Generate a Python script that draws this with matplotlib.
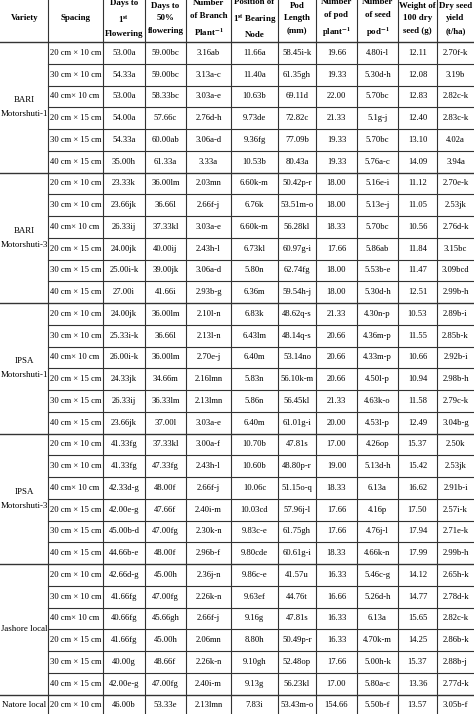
import matplotlib
matplotlib.use("Agg")
import matplotlib.pyplot as plt

plt.rcParams['font.family'] = ['Liberation Serif', 'DejaVu Serif']
plt.rcParams['mathtext.fontset'] = 'stix'

headers = ["Variety", "Spacing", "Days to\n1$^{\\mathbf{st}}$\nFlowering", "Days to\n50%\nflowering",
           "Number\nof Branch\nPlant$^{\\mathbf{-1}}$", "Position of\n1$^{\\mathbf{st}}$ Bearing\nNode",
           "Pod\nLength\n(mm)", "Number\nof pod\nplant$^{\\mathbf{-1}}$", "Number\nof seed\npod$^{\\mathbf{-1}}$",
           "Weight of\n100 dry\nseed (g)", "Dry seed\nyield\n(t/ha)"]

varieties = ["BARI\nMotorshuti-1", "BARI\nMotorshuti-3", "IPSA\nMotorshuti-1", "IPSA\nMotorshuti-3",
             "Jashore local", "Natore local"]
group_sizes = [6, 6, 6, 6, 6, 1]

six = ["20 cm × 10 cm", "30 cm × 10 cm", "40 cm× 10 cm", "20 cm × 15 cm", "30 cm × 15 cm", "40 cm × 15 cm"]
spacing = six * 5 + ["20 cm × 10 cm"]

days_first = ["53.00a", "54.33a", "53.00a", "54.00a", "54.33a", "35.00h",
              "23.33k", "23.66jk", "26.33ij", "24.00jk", "25.00i-k", "27.00i",
              "24.00jk", "25.33i-k", "26.00i-k", "24.33jk", "26.33ij", "23.66jk",
              "41.33fg", "41.33fg", "42.33d-g", "42.00e-g", "45.00b-d", "44.66b-e",
              "42.66d-g", "41.66fg", "40.66fg", "41.66fg", "40.00g", "42.00e-g", "46.00b"]
days_50 = ["59.00bc", "59.00bc", "58.33bc", "57.66c", "60.00ab", "61.33a",
           "36.00lm", "36.66l", "37.33kl", "40.00ij", "39.00jk", "41.66i",
           "36.00lm", "36.66l", "36.00lm", "34.66m", "36.33lm", "37.00l",
           "37.33kl", "47.33fg", "48.00f", "47.66f", "47.00fg", "48.00f",
           "45.00h", "47.00fg", "45.66gh", "45.00h", "48.66f", "47.00fg", "53.33e"]
branches = ["3.16ab", "3.13a-c", "3.03a-e", "2.76d-h", "3.06a-d", "3.33a",
            "2.03mn", "2.66f-j", "3.03a-e", "2.43h-l", "3.06a-d", "2.93b-g",
            "2.10l-n", "2.13l-n", "2.70e-j", "2.16lmn", "2.13lmn", "3.03a-e",
            "3.00a-f", "2.43h-l", "2.66f-j", "2.40i-m", "2.30k-n", "2.96b-f",
            "2.36j-n", "2.26k-n", "2.66f-j", "2.06mn", "2.26k-n", "2.40i-m", "2.13lmn"]
node = ["11.66a", "11.40a", "10.63b", "9.73de", "9.36fg", "10.53b",
        "6.60k-m", "6.76k", "6.60k-m", "6.73kl", "5.80n", "6.36m",
        "6.83k", "6.43lm", "6.40m", "5.83n", "5.86n", "6.40m",
        "10.70b", "10.60b", "10.06c", "10.03cd", "9.83c-e", "9.80cde",
        "9.86c-e", "9.63ef", "9.16g", "8.80h", "9.10gh", "9.13g", "7.83i"]
pod_len = ["58.45i-k", "61.35gh", "69.11d", "72.82c", "77.09b", "80.43a",
           "50.42p-r", "53.51m-o", "56.28kl", "60.97g-i", "62.74fg", "59.54h-j",
           "48.62q-s", "48.14q-s", "53.14no", "56.10k-m", "56.45kl", "61.01g-i",
           "47.81s", "48.80p-r", "51.15o-q", "57.96j-l", "61.75gh", "60.61g-i",
           "41.57u", "44.76t", "47.81s", "50.49p-r", "52.48op", "56.23kl", "53.43m-o"]
pods = ["19.66", "19.33", "22.00", "21.33", "19.33", "19.33",
        "18.00", "18.00", "18.33", "17.66", "18.00", "18.00",
        "21.33", "20.66", "20.66", "20.66", "21.33", "20.00",
        "17.00", "19.00", "18.33", "17.66", "17.66", "18.33",
        "16.33", "16.66", "16.33", "16.33", "17.66", "17.00", "154.66"]
seeds = ["4.80i-l", "5.30d-h", "5.70bc", "5.1g-j", "5.70bc", "5.76a-c",
         "5.16e-i", "5.13e-j", "5.70bc", "5.86ab", "5.53b-e", "5.30d-h",
         "4.30n-p", "4.36m-p", "4.33m-p", "4.50l-p", "4.63k-o", "4.53l-p",
         "4.26op", "5.13d-h", "6.13a", "4.16p", "4.76j-l", "4.66k-n",
         "5.46c-g", "5.26d-h", "6.13a", "4.70k-m", "5.00h-k", "5.80a-c", "5.50b-f"]
weight = ["12.11", "12.08", "12.83", "12.40", "13.10", "14.09",
          "11.12", "11.05", "10.56", "11.84", "11.47", "12.51",
          "10.53", "11.55", "10.66", "10.94", "11.58", "12.49",
          "15.37", "15.42", "16.62", "17.50", "17.94", "17.99",
          "14.12", "14.77", "15.65", "14.25", "15.37", "13.36", "13.57"]
yield_ = ["2.70f-k", "3.19b", "2.82c-k", "2.83c-k", "4.02a", "3.94a",
          "2.70e-k", "2.53jk", "2.76d-k", "3.15bc", "3.09bcd", "2.99b-h",
          "2.89b-i", "2.85b-k", "2.92b-i", "2.98b-h", "2.79c-k", "3.04b-g",
          "2.50k", "2.53jk", "2.91b-i", "2.57i-k", "2.71e-k", "2.99b-h",
          "2.65h-k", "2.78d-k", "2.82c-k", "2.86b-k", "2.88b-j", "2.77d-k", "3.05b-f"]

columns = [spacing, days_first, days_50, branches, node, pod_len, pods, seeds, weight, yield_]

W, H = 474, 714
fig = plt.figure(figsize=(W / 100, H / 100), dpi=100)
ax = fig.add_axes([0, 0, 1, 1])
ax.set_xlim(0, W)
ax.set_ylim(H, 0)
ax.axis('off')

xb = [0, 48.5, 103, 145, 186, 231, 278, 316, 357, 398, 437, 474]
head_h = 42
row_h = 21.75
lc = '#333333'
fs = 6.2

for i, h in enumerate(headers):
    ax.text((xb[i] + xb[i + 1]) / 2, 18.5, h, ha='center', va='center',
            fontsize=6.4, fontweight='bold', linespacing=1.75)
ax.plot([0, W], [head_h, head_h], color=lc, lw=1.0)
for x in xb[1:-1]:
    ax.plot([x, x], [0, head_h], color=lc, lw=0.8)

nrows = len(spacing)
for r in range(nrows):
    yc = head_h + (r + 0.5) * row_h
    ax.text(xb[1] + 1.5, yc, spacing[r], ha='left', va='center', fontsize=fs)
    for c in range(1, len(columns)):
        ax.text((xb[c + 1] + xb[c + 2]) / 2, yc, columns[c][r], ha='center', va='center', fontsize=fs)

start = 0
for v, g in zip(varieties, group_sizes):
    y0 = head_h + start * row_h
    y1 = head_h + (start + g) * row_h
    ax.text(xb[1] / 2, (y0 + y1) / 2, v, ha='center', va='center', fontsize=6.4, linespacing=2.0)
    for k in range(1, g):
        yy = head_h + (start + k) * row_h
        ax.plot([xb[1], W], [yy, yy], color=lc, lw=0.8)
    ax.plot([0, W], [y1, y1], color=lc, lw=1.0)
    start += g

for x in xb[1:-1]:
    ax.plot([x, x], [head_h, head_h + nrows * row_h], color=lc, lw=0.8)

fig.savefig("out.png", dpi=100)
